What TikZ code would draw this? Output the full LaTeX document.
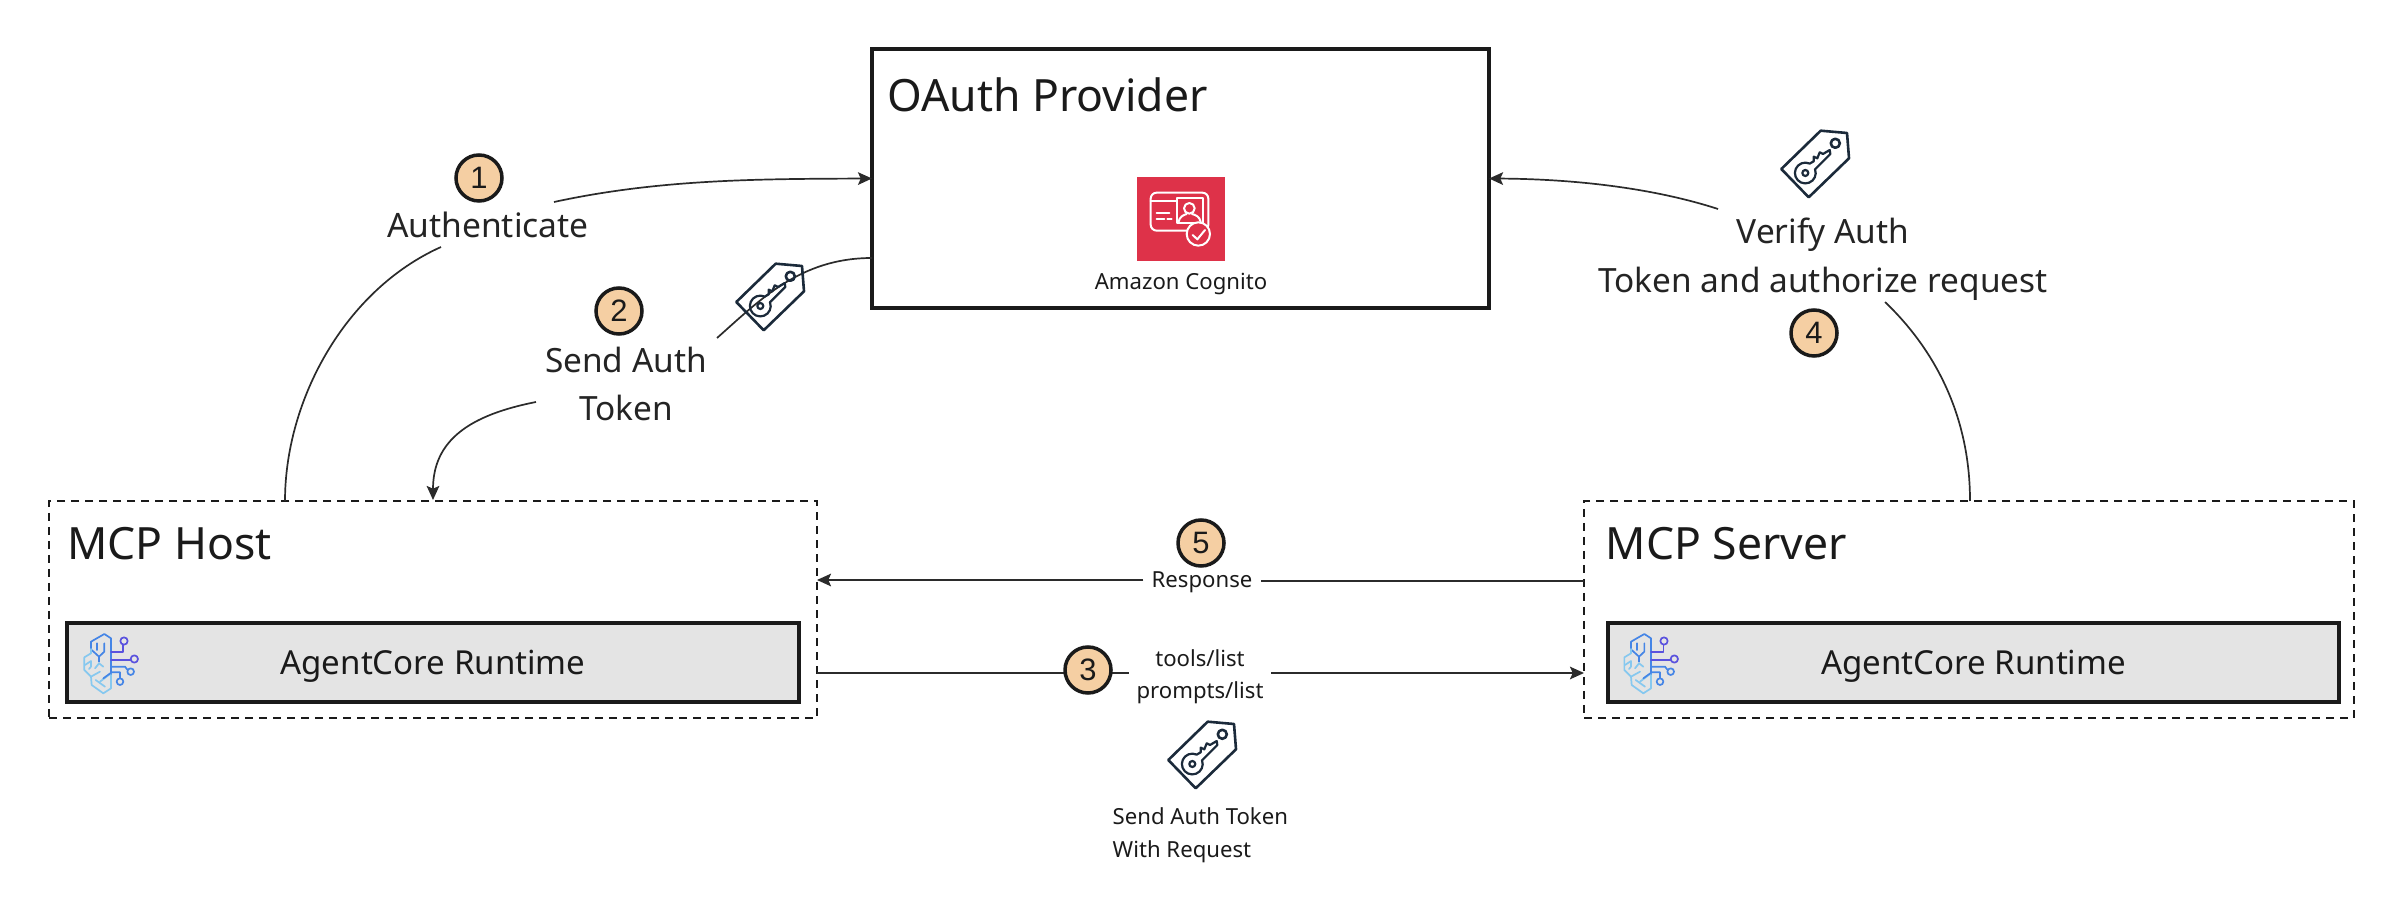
\documentclass[tikz,border=0pt]{standalone}
\usepackage{fontspec}
\setmainfont{Noto Sans}
\newfontfamily\digitfont{Liberation Sans}
\usetikzlibrary{arrows.meta}
\newdimen\pxw \pxw=0.2845pt
\newdimen\pxc \pxc=0.01cm
\definecolor{ink}{HTML}{1A1A1A}
\definecolor{labelink}{HTML}{242424}
\definecolor{conn}{HTML}{2B2B2B}
\definecolor{badge}{HTML}{F5CFA3}
\definecolor{panel}{HTML}{E4E4E4}
\definecolor{cognitored}{HTML}{DE3249}
\definecolor{tagink}{HTML}{1B2A3A}
\definecolor{bLight}{HTML}{86C8EF}
\definecolor{bMid}{HTML}{4585E6}
\definecolor{bPurple}{HTML}{5A52DE}
\tikzset{
  flow/.style={draw=conn,line width=1.7\pxw},
  arrowed/.style={-{Stealth[length=4pt,width=3.6pt,inset=0.8pt]}},
  solidbox/.style={draw=ink,line width=4\pxw,outer sep=0pt,inner sep=0pt},
  dashbox/.style={draw=ink,line width=2\pxw,dash pattern=on 8\pxw off 6\pxw,outer sep=0pt,inner sep=0pt},
  title/.style={anchor=base west,inner sep=0pt,text=ink,font=\fontsize{12.65}{15}\selectfont},
  biglabel/.style={inner sep=0pt,align=center,text=labelink,font=\fontsize{9.5}{13.8}\selectfont},
  smalllabel/.style={inner sep=0pt,text=ink,font=\fontsize{6.3}{9.2}\selectfont},
  runtime/.style={text=ink,font=\fontsize{9.4}{12}\selectfont,text height=25\pxc,text depth=0pt},
  stepbadge/.style={circle,draw=ink,fill=badge,line width=3.5\pxw,minimum size=46\pxc,inner sep=0pt,text=ink,font=\digitfont\fontsize{8.8}{10}\selectfont},
  tagicon/.pic={
    \begin{scope}[draw=tagink,line width=2.6\pxw,line join=round]
      \draw (-33.7,5) -- (5.7,-33.3) -- (32,-31) -- (34,-5.7) -- (-6.3,33.3) -- cycle;
      \draw (20.3,-20.7) circle[radius=4.5];
      \draw[line width=2.2\pxw] (-9.7,9) circle[radius=3];
      \draw[line width=2.2\pxw] (15.3,-10) -- (0,5.3) arc[start angle=-21,end angle=295,radius=10.4]
        -- (-1.3,-2.7) -- (-1.3,-7.3) -- (2.3,-5.7) -- (4.7,-11.7) -- (8,-10) -- (14.7,-14) -- cycle;
    \end{scope}
  },
  brainicon/.pic={
    \begin{scope}[scale=1/3,line width=1.7\pxw,line join=round,line cap=round]
      \draw[bMid] (48,72) -- (48,50) -- (88,27) -- (108,40) -- (108,150);
      \draw[bMid] (65,55) -- (65,75);
      \draw[bMid] (88,55) -- (88,80) -- (72,95) -- (50,75);
      \draw[bMid] (72,95) -- (72,110);
      \draw[bLight] (48,72) -- (48,85) -- (28,97) -- (28,135) -- (48,155) -- (50,180) -- (85,205) -- (108,190) -- (108,150);
      \draw[bLight] (30,120) -- (48,108) -- (48,125) -- (42,132);
      \draw[bLight] (60,130) -- (72,115) -- (85,125);
      \draw[bLight] (48,155) -- (75,140);
      \draw[bLight] (62,165) -- (90,185);
      \draw[bLight] (75,170) -- (108,145);
      \draw[bPurple] (108,82) -- (145,82) -- (145,60);
      \draw[bPurple] (147,48) circle[radius=11];
      \draw[bPurple] (108,104) -- (167,104);
      \draw[bPurple] (178,102) circle[radius=11];
      \draw[bMid] (108,125) -- (150,125) -- (157,134);
      \draw[bMid] (167,140) circle[radius=10];
      \draw[bMid] (85,160) -- (110,142) -- (135,142) -- (135,160);
      \draw[bMid] (135,170) circle[radius=10];
    \end{scope}
  },
  cognitoicon/.pic={
    \begin{scope}[scale=1/3,draw=white,line width=2\pxw,line cap=round,line join=round]
      \draw[rounded corners=6\pxw] (62,68) rectangle (235,182);
      \draw (62,92) -- (140,92);
      \draw[fill=cognitored] (140,85) rectangle (218,160);
      \draw (178,115) circle[radius=16];
      \draw (145,158) .. controls (148,140) and (160,135) .. (170,132);
      \draw (186,132) .. controls (198,135) and (208,140) .. (212,155);
      \draw (80,130) -- (118,130);
      \draw (80,148) -- (103,148);
      \draw (112,148) -- (125,148);
      \draw[fill=cognitored] (205,192) circle[radius=35];
      \draw (188,195) -- (202,208) -- (225,180);
    \end{scope}
  }
}
\begin{document}
\begin{tikzpicture}[x=0.01cm,y=-0.01cm]
\useasboundingbox (0,0) rectangle (2400,910);

% boxes
\node (oauth) [solidbox,minimum width=617\pxc,minimum height=259\pxc] at (1180.5,178.5) {};
\node (host) [dashbox,minimum width=768\pxc,minimum height=217\pxc] at (433,609.5) {};
\node (server) [dashbox,minimum width=770\pxc,minimum height=217\pxc] at (1969,609.5) {};
\node (hostrt) [solidbox,fill=panel,runtime,minimum width=732\pxc,minimum height=79\pxc] at (433,662.5) {AgentCore Runtime};
\node (serverrt) [solidbox,fill=panel,runtime,minimum width=731\pxc,minimum height=79\pxc] at (1973.5,662.5) {AgentCore Runtime};

% titles
\node (oauthtitle) [title] at (886.5,112) {OAuth Provider};
\node (hosttitle) [title] at (66.5,559.5) {MCP Host};
\node (servertitle) [title] at (1605,559.5) {MCP Server};

% cognito
\node (cognito) [fill=cognitored,inner sep=0pt,minimum width=88\pxc,minimum height=84\pxc] at (1181,219) {};
\pic at (1130,170) {cognitoicon};
\node (cognitolabel) [smalllabel,anchor=base] at (1181,289.5) {Amazon Cognito};

% runtime icons
\pic at (75,625) {brainicon};
\pic at (1615,625) {brainicon};

% labels
\node (authlabel) [biglabel,font=\fontsize{9.55}{13.8}\selectfont,anchor=base] at (488,237.5) {Authenticate};
\node (sendlabel) [biglabel] at (626,384) {Send Auth\\Token};
\node (verifylabel) [biglabel] at (1823,259) {Verify Auth\\Token and authorize request};
\node (resp) [smalllabel,font=\fontsize{6.3}{9.2}\selectfont,inner xsep=7.5\pxc,anchor=base] at (1202,588) {Response};
\node (tools) [smalllabel,align=center,font=\fontsize{6.3}{9.1}\selectfont,inner xsep=7\pxc] at (1200,676.5) {tools/list\\prompts/list};
\node (withreq) [smalllabel,align=left,font=\fontsize{6.3}{9.3}\selectfont,anchor=west] at (1112,835) {Send Auth Token\\With Request};

% connector anchors
\coordinate (authstart) at (285,501);
\coordinate (authgapa) at (441,247);
\coordinate (authgapb) at (554,202);
\coordinate (sendstart) at (872,258);
\coordinate (sendgapa) at (717,338);
\coordinate (sendgapb) at (536,402);
\coordinate (sendend) at (433,500);
\coordinate (verifystart) at (1970,501);
\coordinate (verifygapa) at (1885,302);
\coordinate (verifygapb) at (1718,209);
\coordinate (respstart) at (1584,581);
\coordinate (respend) at (817,580);
\coordinate (toolsstart) at (817,673);
\coordinate (toolsend) at (1584,673);

% connectors
\draw[flow] (authstart) .. controls (285,400) and (345,290) .. (authgapa);
\draw[flow,arrowed] (authgapb) .. controls (660,179) and (760,179) .. (oauth.west);
\draw[flow] (sendstart) .. controls (800,258) and (760,300) .. (sendgapa);
\draw[flow,arrowed] (sendgapb) .. controls (470,415) and (433,440) .. (sendend);
\draw[flow] (verifystart) .. controls (1970,410) and (1930,345) .. (verifygapa);
\draw[flow,arrowed] (verifygapb) .. controls (1650,187) and (1570,179) .. (oauth.east);
\draw[flow] (respstart) -- (resp.east |- respstart);
\draw[flow,arrowed] (resp.west |- respend) -- (respend);
\draw[flow] (toolsstart) -- (tools.west |- toolsstart);
\draw[flow,arrowed] (tools.east |- toolsend) -- (toolsend);

% tags
\pic at (770,297) {tagicon};
\pic at (1815,164) {tagicon};
\pic at (1202,755) {tagicon};

% step badges
\node (one) [stepbadge] at (479,178) {1};
\node (two) [stepbadge] at (619,311) {2};
\node (three) [stepbadge] at (1088,670) {3};
\node (four) [stepbadge] at (1814,333) {4};
\node (five) [stepbadge] at (1201,543) {5};
\end{tikzpicture}
\end{document}
